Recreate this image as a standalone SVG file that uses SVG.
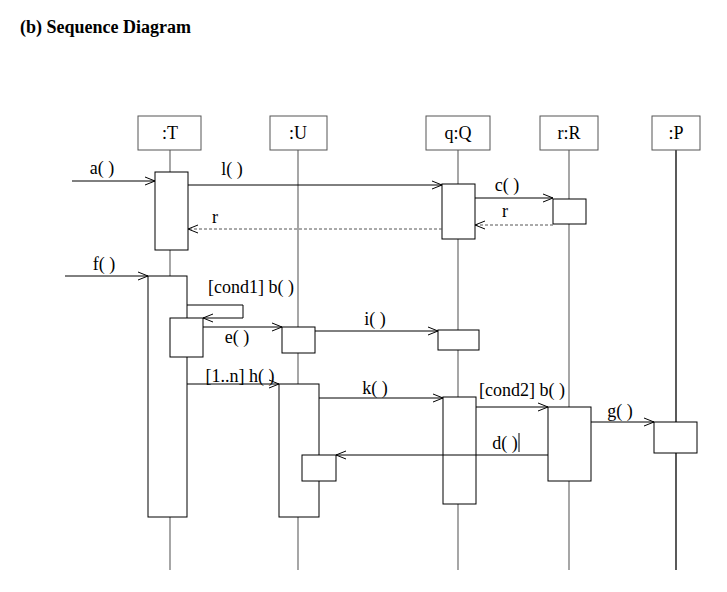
<svg xmlns="http://www.w3.org/2000/svg" width="727" height="592" viewBox="0 0 727 592">
<defs><marker id="oa" markerWidth="12" markerHeight="10" refX="11" refY="5" orient="auto" markerUnits="userSpaceOnUse"><path d="M1,1 L11,5 L1,9" fill="none" stroke="#000" stroke-width="1"/></marker></defs>
<style>
text{font-family:"Liberation Serif",serif;font-size:18px;fill:#000}
.c{text-anchor:middle}
.hd{fill:#fff;stroke:#555;stroke-width:1}
.ll{stroke:#777;stroke-width:1.3;fill:none}
.act{fill:#fff;stroke:#000;stroke-width:1}
.m{stroke:#000;stroke-width:1;fill:none;marker-end:url(#oa)}
.d{stroke:#555;stroke-width:1;fill:none;stroke-dasharray:3,2;marker-end:url(#oa)}
</style>
<rect width="727" height="592" fill="#fff"/>
<text x="20" y="33" style="font-weight:bold;font-size:18px">(b) Sequence Diagram</text>
<g id="lifelines">
<line class="ll" x1="170" y1="150" x2="170" y2="570"/>
<line class="ll" x1="298" y1="150" x2="298" y2="570"/>
<line class="ll" x1="458" y1="150" x2="458" y2="570"/>
<line class="ll" x1="569" y1="150" x2="569" y2="570"/>
<line class="ll" x1="676" y1="150" x2="676" y2="570" style="stroke:#000"/>
</g>
<g id="T"><rect class="hd" x="138" y="116" width="63" height="34"/><text class="c" x="170" y="139">:T</text></g>
<g id="U"><rect class="hd" x="270" y="116" width="57" height="34"/><text class="c" x="298" y="139">:U</text></g>
<g id="Q"><rect class="hd" x="426" y="116" width="64" height="34"/><text class="c" x="458" y="139">q:Q</text></g>
<g id="R"><rect class="hd" x="540" y="116" width="58" height="34"/><text class="c" x="569" y="139">r:R</text></g>
<g id="P"><rect class="hd" x="652" y="116" width="48" height="34"/><text class="c" x="676" y="139">:P</text></g>
<g id="activations">
<rect class="act" x="155" y="172" width="33" height="78"/>
<rect class="act" x="442" y="184" width="33" height="55"/>
<rect class="act" x="553" y="199" width="33" height="25"/>
<rect class="act" x="148" y="276" width="39" height="241"/>
<rect class="act" x="170" y="318" width="33" height="39"/>
<rect class="act" x="282" y="327" width="33" height="26"/>
<rect class="act" x="438" y="330" width="41" height="20"/>
<rect class="act" x="279" y="384" width="40" height="133"/>
<rect class="act" x="443" y="397" width="33" height="107"/>
<rect class="act" x="548" y="407" width="43" height="74"/>
<rect class="act" x="654" y="422" width="43" height="31"/>
<rect class="act" x="302" y="455" width="34" height="26"/>
</g>
<g id="connectors">
<line class="m" x1="72" y1="181" x2="155" y2="181"/>
<line class="m" x1="188" y1="185" x2="442" y2="185"/>
<line class="m" x1="475" y1="198" x2="553" y2="198"/>
<line class="d" x1="553" y1="225" x2="475" y2="225"/>
<line class="d" x1="442" y1="229" x2="188" y2="229"/>
<line class="m" x1="65" y1="276" x2="148" y2="276"/>
<path class="m" d="M187,305 H243 V318 H203"/>
<line class="m" x1="203" y1="327" x2="282" y2="327"/>
<line class="m" x1="315" y1="331" x2="438" y2="331"/>
<line class="m" x1="187" y1="384" x2="279" y2="384"/>
<line class="m" x1="319" y1="398" x2="443" y2="398"/>
<line class="m" x1="476" y1="407" x2="548" y2="407"/>
<line class="m" x1="591" y1="422" x2="654" y2="422"/>
<line class="m" x1="548" y1="455" x2="336" y2="455"/>
</g>
<g id="labels">
<text class="c" x="102" y="174">a( )</text>
<text class="c" x="232" y="175">l( )</text>
<text class="c" x="507" y="191">c( )</text>
<text class="c" x="505" y="217">r</text>
<text class="c" x="215" y="223">r</text>
<text class="c" x="104" y="270">f( )</text>
<text class="c" x="251" y="293">[cond1] b( )</text>
<text class="c" x="237" y="343">e( )</text>
<text class="c" x="375" y="325">i( )</text>
<text class="c" x="240" y="382">[1..n] h( )</text>
<text class="c" x="375" y="394">k( )</text>
<text class="c" x="522" y="396">[cond2] b( )</text>
<text class="c" x="620" y="417">g( )</text>
<text class="c" x="505" y="449">d( )</text>
<line x1="519" y1="433" x2="519" y2="452" stroke="#000"/>
</g>
</svg>
